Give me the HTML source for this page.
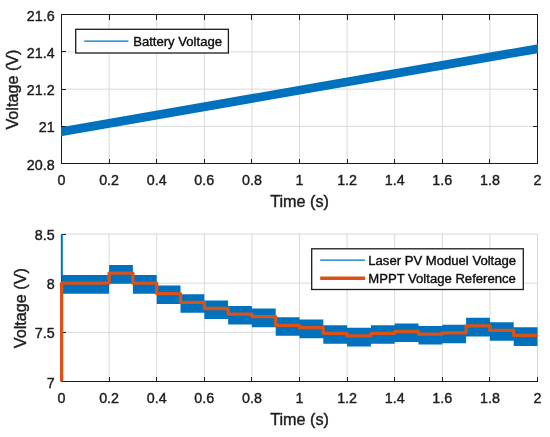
<!DOCTYPE html>
<html lang="en">
<head>
<meta charset="utf-8">
<title>Battery and PV voltage</title>
<style>
html,body{margin:0;padding:0;background:#fff;}
body{width:550px;height:437px;overflow:hidden;}
svg{display:block;}
.t{font-family:"Liberation Sans",sans-serif;stroke:#1c1c1c;stroke-width:0.4px;}
</style>
</head>
<body>
<svg width="550" height="437" viewBox="0 0 550 437">
<rect x="0" y="0" width="550" height="437" fill="#ffffff"/>
<path d="M109.10 14.70V163.60M156.70 14.70V163.60M204.30 14.70V163.60M251.90 14.70V163.60M299.50 14.70V163.60M347.10 14.70V163.60M394.70 14.70V163.60M442.30 14.70V163.60M489.90 14.70V163.60M61.50 126.38H537.50M61.50 89.15H537.50M61.50 51.92H537.50" stroke="#d9d9d9" stroke-width="1" fill="none"/>
<path d="M61.50 163.60v-4.8M61.50 14.70v4.8M109.10 163.60v-4.8M109.10 14.70v4.8M156.70 163.60v-4.8M156.70 14.70v4.8M204.30 163.60v-4.8M204.30 14.70v4.8M251.90 163.60v-4.8M251.90 14.70v4.8M299.50 163.60v-4.8M299.50 14.70v4.8M347.10 163.60v-4.8M347.10 14.70v4.8M394.70 163.60v-4.8M394.70 14.70v4.8M442.30 163.60v-4.8M442.30 14.70v4.8M489.90 163.60v-4.8M489.90 14.70v4.8M537.50 163.60v-4.8M537.50 14.70v4.8M61.50 163.60h4.8M537.50 163.60h-4.8M61.50 126.38h4.8M537.50 126.38h-4.8M61.50 89.15h4.8M537.50 89.15h-4.8M61.50 51.92h4.8M537.50 51.92h-4.8M61.50 14.70h4.8M537.50 14.70h-4.8" stroke="#1c1c1c" stroke-width="1" fill="none" shape-rendering="crispEdges"/>
<rect x="61.50" y="14.70" width="476.00" height="148.90" fill="none" stroke="#1c1c1c" stroke-width="1" shape-rendering="crispEdges"/>
<polygon points="61.00,127.25 538.00,44.25 538.00,53.15 61.00,136.15" fill="#0072bd"/>
<text x="61.50" y="184.80" class="t" font-size="14.3" fill="#1c1c1c" text-anchor="middle">0</text>
<text x="109.10" y="184.80" class="t" font-size="14.3" fill="#1c1c1c" text-anchor="middle">0.2</text>
<text x="156.70" y="184.80" class="t" font-size="14.3" fill="#1c1c1c" text-anchor="middle">0.4</text>
<text x="204.30" y="184.80" class="t" font-size="14.3" fill="#1c1c1c" text-anchor="middle">0.6</text>
<text x="251.90" y="184.80" class="t" font-size="14.3" fill="#1c1c1c" text-anchor="middle">0.8</text>
<text x="299.50" y="184.80" class="t" font-size="14.3" fill="#1c1c1c" text-anchor="middle">1</text>
<text x="347.10" y="184.80" class="t" font-size="14.3" fill="#1c1c1c" text-anchor="middle">1.2</text>
<text x="394.70" y="184.80" class="t" font-size="14.3" fill="#1c1c1c" text-anchor="middle">1.4</text>
<text x="442.30" y="184.80" class="t" font-size="14.3" fill="#1c1c1c" text-anchor="middle">1.6</text>
<text x="489.90" y="184.80" class="t" font-size="14.3" fill="#1c1c1c" text-anchor="middle">1.8</text>
<text x="537.50" y="184.80" class="t" font-size="14.3" fill="#1c1c1c" text-anchor="middle">2</text>
<text x="54.7" y="169.60" class="t" font-size="14.3" fill="#1c1c1c" text-anchor="end">20.8</text>
<text x="54.7" y="132.38" class="t" font-size="14.3" fill="#1c1c1c" text-anchor="end">21</text>
<text x="54.7" y="95.15" class="t" font-size="14.3" fill="#1c1c1c" text-anchor="end">21.2</text>
<text x="54.7" y="57.92" class="t" font-size="14.3" fill="#1c1c1c" text-anchor="end">21.4</text>
<text x="54.7" y="20.70" class="t" font-size="14.3" fill="#1c1c1c" text-anchor="end">21.6</text>
<text x="299.50" y="207.30" class="t" font-size="16.2" fill="#1c1c1c" text-anchor="middle">Time (s)</text>
<text transform="translate(18.4 89.55) rotate(-90)" class="t" font-size="16.2" fill="#1c1c1c" text-anchor="middle">Voltage (V)</text>
<rect x="75.7" y="29.3" width="152.7" height="23.7" fill="#ffffff" stroke="#1c1c1c" stroke-width="1.3"/>
<path d="M84.2 41.1H128.4" stroke="#0072bd" stroke-width="1.2" fill="none"/>
<text x="133.2" y="45.9" class="t" font-size="13.1" fill="#000000">Battery Voltage</text>
<path d="M109.10 234.00V381.50M156.70 234.00V381.50M204.30 234.00V381.50M251.90 234.00V381.50M299.50 234.00V381.50M347.10 234.00V381.50M394.70 234.00V381.50M442.30 234.00V381.50M489.90 234.00V381.50M537.50 234.00V381.50M61.50 332.33H537.50M61.50 283.17H537.50M61.50 234.00H537.50" stroke="#d9d9d9" stroke-width="1" fill="none"/>
<path d="M61.50 381.50v-4.8M109.10 381.50v-4.8M156.70 381.50v-4.8M204.30 381.50v-4.8M251.90 381.50v-4.8M299.50 381.50v-4.8M347.10 381.50v-4.8M394.70 381.50v-4.8M442.30 381.50v-4.8M489.90 381.50v-4.8M537.50 381.50v-4.8M61.50 381.50h4.8M61.50 332.33h4.8M61.50 283.17h4.8M61.50 234.00h4.8M61.50 234.00V381.50H537.50" stroke="#1c1c1c" stroke-width="1" fill="none" shape-rendering="crispEdges"/>
<path d="M61.50 275.10H85.30V293.70H61.50ZM85.30 275.10H109.10V293.70H85.30ZM109.10 265.10H132.90V283.70H109.10ZM132.90 275.10H156.70V293.70H132.90ZM156.70 285.50H180.50V304.10H156.70ZM180.50 294.20H204.30V312.80H180.50ZM204.30 300.40H228.10V319.00H204.30ZM228.10 306.00H251.90V324.60H228.10ZM251.90 308.60H275.70V327.20H251.90ZM275.70 317.20H299.50V335.80H275.70ZM299.50 319.60H323.30V338.20H299.50ZM323.30 325.20H347.10V343.80H323.30ZM347.10 327.80H370.90V346.40H347.10ZM370.90 325.20H394.70V343.80H370.90ZM394.70 323.40H418.50V342.00H394.70ZM418.50 326.00H442.30V344.60H418.50ZM442.30 324.70H466.10V343.30H442.30ZM466.10 317.80H489.90V336.40H466.10ZM489.90 322.20H513.70V340.80H489.90ZM513.70 327.30H537.50V345.90H513.70Z" fill="#0072bd"/>
<path d="M61.80 234.00V276.20" stroke="#0072bd" stroke-width="2" fill="none"/>
<path d="M61.60 381.50V283.20H85.30V283.20H109.10V273.20H132.90V283.20H156.70V293.60H180.50V302.30H204.30V308.50H228.10V314.10H251.90V316.70H275.70V325.30H299.50V327.70H323.30V333.30H347.10V335.90H370.90V333.30H394.70V331.50H418.50V334.10H442.30V332.80H466.10V325.90H489.90V330.30H513.70V335.40H537.50" stroke="#d95319" stroke-width="3.3" fill="none" stroke-linejoin="round"/>
<text x="61.50" y="402.70" class="t" font-size="14.3" fill="#1c1c1c" text-anchor="middle">0</text>
<text x="109.10" y="402.70" class="t" font-size="14.3" fill="#1c1c1c" text-anchor="middle">0.2</text>
<text x="156.70" y="402.70" class="t" font-size="14.3" fill="#1c1c1c" text-anchor="middle">0.4</text>
<text x="204.30" y="402.70" class="t" font-size="14.3" fill="#1c1c1c" text-anchor="middle">0.6</text>
<text x="251.90" y="402.70" class="t" font-size="14.3" fill="#1c1c1c" text-anchor="middle">0.8</text>
<text x="299.50" y="402.70" class="t" font-size="14.3" fill="#1c1c1c" text-anchor="middle">1</text>
<text x="347.10" y="402.70" class="t" font-size="14.3" fill="#1c1c1c" text-anchor="middle">1.2</text>
<text x="394.70" y="402.70" class="t" font-size="14.3" fill="#1c1c1c" text-anchor="middle">1.4</text>
<text x="442.30" y="402.70" class="t" font-size="14.3" fill="#1c1c1c" text-anchor="middle">1.6</text>
<text x="489.90" y="402.70" class="t" font-size="14.3" fill="#1c1c1c" text-anchor="middle">1.8</text>
<text x="537.50" y="402.70" class="t" font-size="14.3" fill="#1c1c1c" text-anchor="middle">2</text>
<text x="54.7" y="387.50" class="t" font-size="14.3" fill="#1c1c1c" text-anchor="end">7</text>
<text x="54.7" y="338.33" class="t" font-size="14.3" fill="#1c1c1c" text-anchor="end">7.5</text>
<text x="54.7" y="289.17" class="t" font-size="14.3" fill="#1c1c1c" text-anchor="end">8</text>
<text x="54.7" y="240.00" class="t" font-size="14.3" fill="#1c1c1c" text-anchor="end">8.5</text>
<text x="299.50" y="425.20" class="t" font-size="16.2" fill="#1c1c1c" text-anchor="middle">Time (s)</text>
<text transform="translate(25.7 308.15) rotate(-90)" class="t" font-size="16.2" fill="#1c1c1c" text-anchor="middle">Voltage (V)</text>
<rect x="311.7" y="248.8" width="211.6" height="40.7" fill="#ffffff" stroke="#1c1c1c" stroke-width="1.3"/>
<path d="M320.2 260.1H365" stroke="#0072bd" stroke-width="1.2" fill="none"/>
<path d="M320.2 278.3H365" stroke="#d95319" stroke-width="3.4" fill="none"/>
<text x="368.3" y="265.1" class="t" font-size="13.1" fill="#000000">Laser PV Moduel Voltage</text>
<text x="368.3" y="283.3" class="t" font-size="13.1" fill="#000000">MPPT Voltage Reference</text>
</svg>
</body>
</html>
